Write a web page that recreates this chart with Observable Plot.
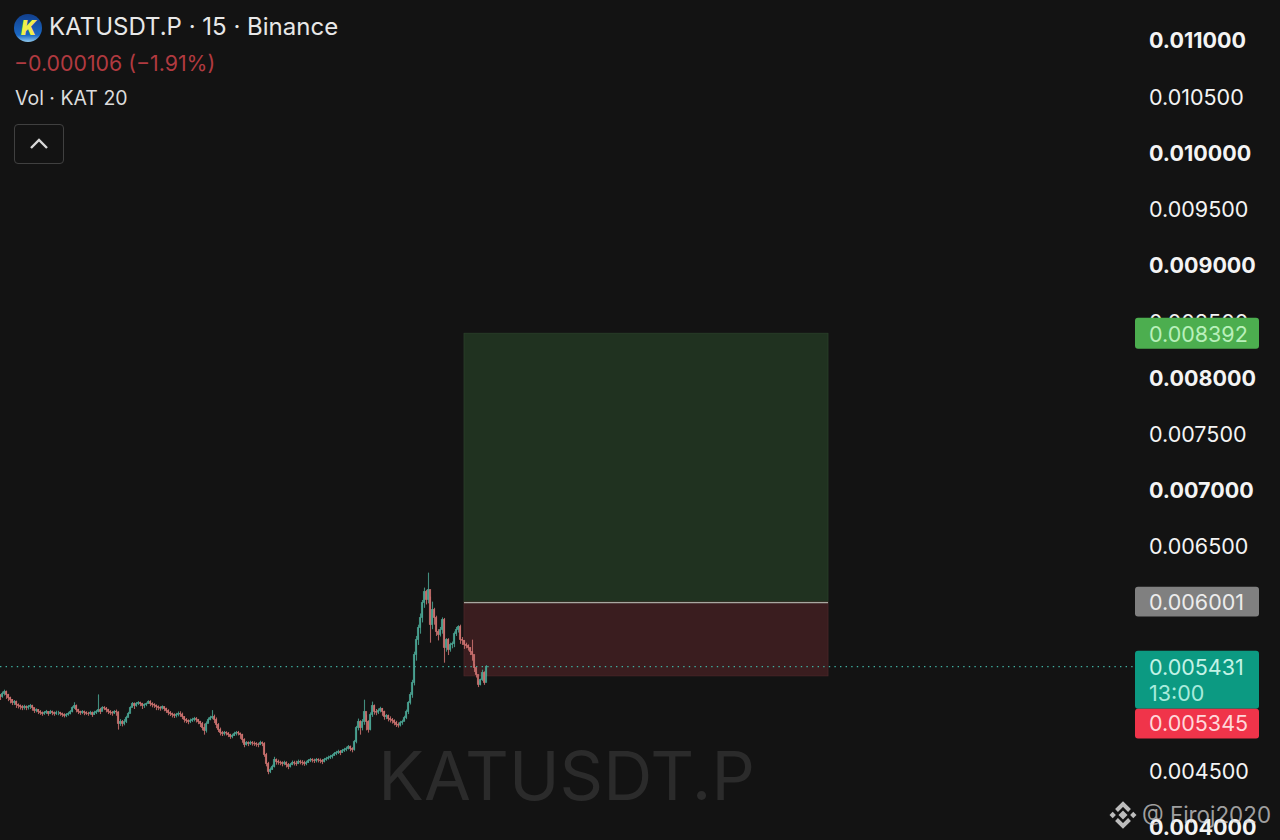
<!DOCTYPE html>
<html>
<head>
<meta charset="utf-8">
<title>KATUSDT.P · 15 · Binance</title>
<script src="https://cdn.jsdelivr.net/npm/d3@7"></script>
<script src="https://cdn.jsdelivr.net/npm/@observablehq/plot@0.6"></script>
<style>
html,body{margin:0;padding:0;background:#131313;}
#wrap{position:relative;width:1280px;height:840px;overflow:hidden;font-family:Inter,sans-serif;}
#chart svg{display:block;}
.h{position:absolute;white-space:nowrap;line-height:1;}
#btn{position:absolute;left:14px;top:124px;width:48px;height:38px;border:1px solid #404040;border-radius:4px;}
</style>
</head>
<body>
<div id="wrap">
<div id="chart"></div>
<svg class="h" style="left:14px;top:14px" width="28" height="28" viewBox="0 0 28 28">
  <defs><linearGradient id="lg" x1="0" y1="0" x2="0" y2="1"><stop offset="0" stop-color="#123f8c"/><stop offset=".75" stop-color="#1a68c4"/><stop offset="1" stop-color="#8fc9ee"/></linearGradient></defs>
  <circle cx="14" cy="14" r="14" fill="url(#lg)"/>
  <text x="14.5" y="21" text-anchor="middle" font-family="Inter" font-style="italic" font-weight="900" font-size="20" fill="#f2ee4a">K</text>
</svg>
<div class="h" style="left:49px;top:15px;font-size:24px;color:#e8e8e8;">KATUSDT.P · 15 · Binance</div>
<div class="h" style="left:14px;top:53px;font-size:21.3px;color:#b13a40;">−0.000106 (−1.91%)</div>
<div class="h" style="left:15px;top:89px;font-size:19.5px;color:#dcdcdc;">Vol · KAT 20</div>
<div id="btn"><svg width="48" height="38" viewBox="0 0 48 38"><path d="M16 23 L24 15 L32 23" fill="none" stroke="#d8d8d8" stroke-width="2.4"/></svg></div>
<svg class="h" style="left:1108px;top:800px" width="30" height="30" viewBox="0 0 30 30">
  <g fill="none" stroke="#bdbdbd" stroke-width="4"><path d="M8.5 10.5 L15 4 L21.5 10.5"/><path d="M8.5 19.5 L15 26 L21.5 19.5"/></g>
  <g fill="#bdbdbd"><path d="M1.5 15 l3.2-3.2 3.2 3.2 -3.2 3.2z"/><path d="M28.5 15 l-3.2-3.2 -3.2 3.2 3.2 3.2z"/><path d="M15 10.5 l4.5 4.5 -4.5 4.5 -4.5-4.5z"/></g>
</svg>
<div class="h" style="left:1142px;top:804px;font-size:22.4px;color:rgba(215,215,215,.72);">@ Firoj2020</div>
</div>
<script>
const unit = 1e-6;
const closes = [
5160,5187,5205,5178,5151,5133,5107,5116,5089,5080,5071,5062,5071,5062,5071,5080,5062,5036,5044,5027,
5018,5009,5018,5027,5009,5027,5018,5009,5018,5018,5009,5000,4991,5000,5009,5027,5062,5080,5044,5027,
5018,5027,5018,5012,5009,5018,5000,5018,5027,5044,5027,5062,5058,5044,5027,5018,5014,5027,5024,4920,
4938,4920,4938,4973,5009,5062,5098,5080,5098,5107,5098,5080,5089,5098,5116,5098,5089,5085,5071,5062,
5058,5071,5053,5036,5018,5009,5000,4991,5000,5009,5005,4982,4956,4947,4938,4947,4956,4964,4956,4938,
4920,4884,4858,4920,4956,4973,4982,4956,4911,4867,4840,4831,4840,4836,4822,4804,4813,4831,4840,4836,
4822,4778,4733,4751,4742,4751,4747,4742,4738,4733,4751,4742,4644,4564,4493,4511,4538,4600,4582,4578,
4573,4564,4573,4555,4538,4555,4573,4569,4564,4582,4578,4573,4564,4573,4591,4600,4596,4591,4600,4596,
4591,4582,4600,4609,4618,4626,4635,4653,4662,4671,4662,4680,4689,4698,4715,4698,4689,4760,4884,4938,
4884,4938,5027,4938,4867,5000,5080,5027,5022,5036,5053,5027,4982,4991,4964,4956,4947,4929,4911,4907,
4929,4938,4973,5027,5107,5178,5285,5534,5667,5774,5863,5996,6094,6023,6112,5800,5934,5863,5738,5712,
5756,5845,5596,5667,5578,5623,5631,5720,5756,5783,5667,5662,5623,5614,5596,5560,5534,5418,5356,5267,
5311,5374,5285,5431];
const highs = [
5178,5205,5222,5214,5185,5160,5138,5130,5125,5100,5090,5085,5088,5082,5086,5095,5088,5060,5056,5050,
5040,5028,5032,5042,5030,5042,5036,5028,5035,5034,5025,5018,5012,5014,5025,5040,5075,5110,5090,5052,
5035,5040,5036,5030,5025,5034,5028,5034,5042,5180,5060,5075,5075,5068,5052,5040,5032,5040,5045,5030,
4960,4952,4960,4990,5025,5075,5112,5108,5112,5120,5115,5105,5100,5108,5128,5128,5110,5102,5090,5082,
5075,5082,5072,5062,5048,5032,5018,5012,5016,5028,5030,5018,4985,4970,4958,4965,4972,4980,4978,4962,
4945,4935,4920,4940,4975,4990,5040,5000,4975,4925,4885,4855,4855,4852,4845,4830,4830,4848,4855,4855,
4840,4830,4790,4765,4762,4768,4765,4762,4755,4750,4768,4762,4755,4660,4580,4530,4555,4625,4610,4600,
4590,4585,4590,4585,4570,4570,4592,4590,4590,4600,4598,4595,4590,4590,4605,4615,4612,4608,4615,4612,
4610,4605,4615,4625,4635,4642,4650,4668,4678,4688,4685,4695,4705,4715,4730,4725,4710,4775,4900,4965,
4950,4960,5133,5000,4950,5020,5116,5090,5050,5055,5070,5060,5035,5005,5000,4985,4970,4958,4945,4930,
4945,4955,4990,5045,5120,5200,5310,5560,5700,5800,5900,6020,6130,6110,6263,6050,6005,5950,5880,5760,
5780,5865,5860,5680,5680,5640,5650,5740,5780,5795,5800,5690,5660,5640,5625,5600,5667,5450,5380,5300,
5320,5400,5385,5440];
const lows = [
5130,5150,5170,5140,5120,5100,5085,5085,5060,5055,5045,5040,5045,5040,5045,5050,5035,5015,5020,5005,
4998,4990,4998,5005,4990,5005,4995,4990,4998,4995,4990,4980,4975,4978,4990,5002,5020,5050,5020,5005,
4998,5005,4995,4998,4990,4998,4980,4998,5005,5020,5005,5040,5040,5020,5005,4998,4990,5005,4990,4867,
4900,4895,4905,4925,4985,5040,5070,5050,5070,5085,5075,5050,5060,5075,5095,5075,5065,5060,5040,5040,
5035,5045,5030,5015,4995,4988,4975,4970,4975,4985,4980,4960,4930,4925,4915,4925,4935,4940,4930,4915,
4890,4860,4822,4840,4930,4950,4960,4925,4880,4845,4815,4810,4815,4815,4800,4785,4790,4810,4815,4815,
4785,4750,4710,4725,4720,4730,4725,4722,4715,4710,4728,4720,4625,4540,4470,4480,4510,4530,4555,4555,
4550,4540,4550,4530,4515,4530,4550,4548,4545,4560,4558,4550,4545,4550,4570,4578,4575,4570,4575,4575,
4568,4560,4575,4590,4600,4605,4610,4635,4640,4650,4640,4660,4668,4675,4690,4675,4665,4680,4745,4860,
4822,4860,4910,4860,4840,4860,4980,5000,4995,5005,5020,4990,4955,4960,4940,4930,4920,4905,4890,4885,
4895,4910,4945,4960,5005,5090,5150,5260,5480,5620,5720,5820,5950,5980,5990,5640,5760,5800,5700,5660,
5695,5720,5462,5560,5530,5560,5590,5600,5700,5730,5630,5620,5585,5590,5570,5530,5480,5380,5330,5245,
5260,5300,5265,5340];

const boldTicks = [0.011, 0.010, 0.009, 0.008, 0.007, 0.004];
const plainTicks = [0.0105, 0.0095, 0.0085, 0.0075, 0.0065, 0.0045];
const targetPrice = 0.008392, entryPrice = 0.006001, lastPrice = 0.005431, stopPrice = 0.005345;
const countdown = "13:00";
const boxStartBar = 232, boxEndBar = 414;

const candles = closes.map((c, i) => ({
  i,
  open: (i ? closes[i - 1] : c + 18) * unit,
  close: c * unit,
  high: highs[i] * unit,
  low: lows[i] * unit,
  up: c >= (i ? closes[i - 1] : c + 18)
}));
const col = d => d.up ? "#4aa392" : "#cc7270";
const fmt = v => v.toFixed(6);
const tickText = (data, weight) => Plot.text(data, {
  y: d => d, text: fmt, frameAnchor: "left", dx: 1148.5, dy: 1, textAnchor: "start",
  fill: "#f4f4f4", fontSize: 21.5, fontWeight: weight, fontFamily: "Inter"
});
const tag = (top, bottom, fill) => Plot.rect([0], {
  x1: 567.5, x2: 629.5, y1: top * unit, y2: bottom * unit, fill, rx: 3
});
const tagText = (y, text, fill) => Plot.text([text], {
  y: [y], text: d => d, frameAnchor: "left", dx: 1148.5, dy: 1, textAnchor: "start",
  fill, fontSize: 21.5, fontFamily: "Inter"
});

const chart = Plot.plot({
  width: 1280, height: 840, margin: 0,
  style: {background: "#131313"},
  x: {domain: [0, 640], range: [0, 1280], axis: null},
  y: {domain: [0.003885, 0.011356], range: [840, 0], axis: null},
  marks: [
    Plot.text(["KATUSDT.P"], {frameAnchor: "top-left", lineAnchor: "middle", dx: 566, dy: 778, text: d => d, textAnchor: "middle",
      fill: "#2b2b2b", fontSize: 68, fontWeight: 400, fontFamily: "Inter"}),
    tickText(boldTicks, 700),
    tickText(plainTicks, 400),
    Plot.rect([0], {x1: boxStartBar, x2: boxEndBar, y1: entryPrice, y2: targetPrice, fill: "#203220", stroke: "#2a3f2a", strokeWidth: 0.8}),
    Plot.rect([0], {x1: boxStartBar, x2: boxEndBar, y1: stopPrice, y2: entryPrice, fill: "#3a1d1f", stroke: "#4c2729", strokeWidth: 0.8}),
    Plot.ruleY([entryPrice], {x1: boxStartBar, x2: boxEndBar, stroke: "#a8a8a0", strokeWidth: 1.3}),
    Plot.ruleY([lastPrice], {x1: 0, x2: 567, stroke: "#3fb0a0", strokeWidth: 1.2, strokeDasharray: "1.4 4.2"}),
    Plot.ruleX(candles, {x: "i", y1: "low", y2: "high", stroke: col, strokeWidth: 1.1, strokeOpacity: 0.85, imageFilter: "blur(0.5px)"}),
    Plot.rect(candles, {x1: d => d.i - 0.4, x2: d => d.i + 0.4, y1: "open", y2: "close", fill: col, stroke: col, strokeWidth: 0.5, imageFilter: "blur(0.5px)"}),
    tag(8531, 8255, "#4cae4f"),
    tag(6138, 5872, "#808080"),
    tag(5569, 5053, "#0c9a82"),
    tag(5053, 4787, "#f0344a"),
    tagText(targetPrice, fmt(targetPrice), "#b9f0bb"),
    tagText(entryPrice, fmt(entryPrice), "#ececec"),
    tagText(lastPrice, fmt(lastPrice), "#c3f3e6"),
    tagText(0.005200, countdown, "#a8ebdc"),
    tagText(0.004925, fmt(stopPrice), "#ffd7da")
  ]
});
document.getElementById("chart").appendChild(chart);
</script>
</body>
</html>
